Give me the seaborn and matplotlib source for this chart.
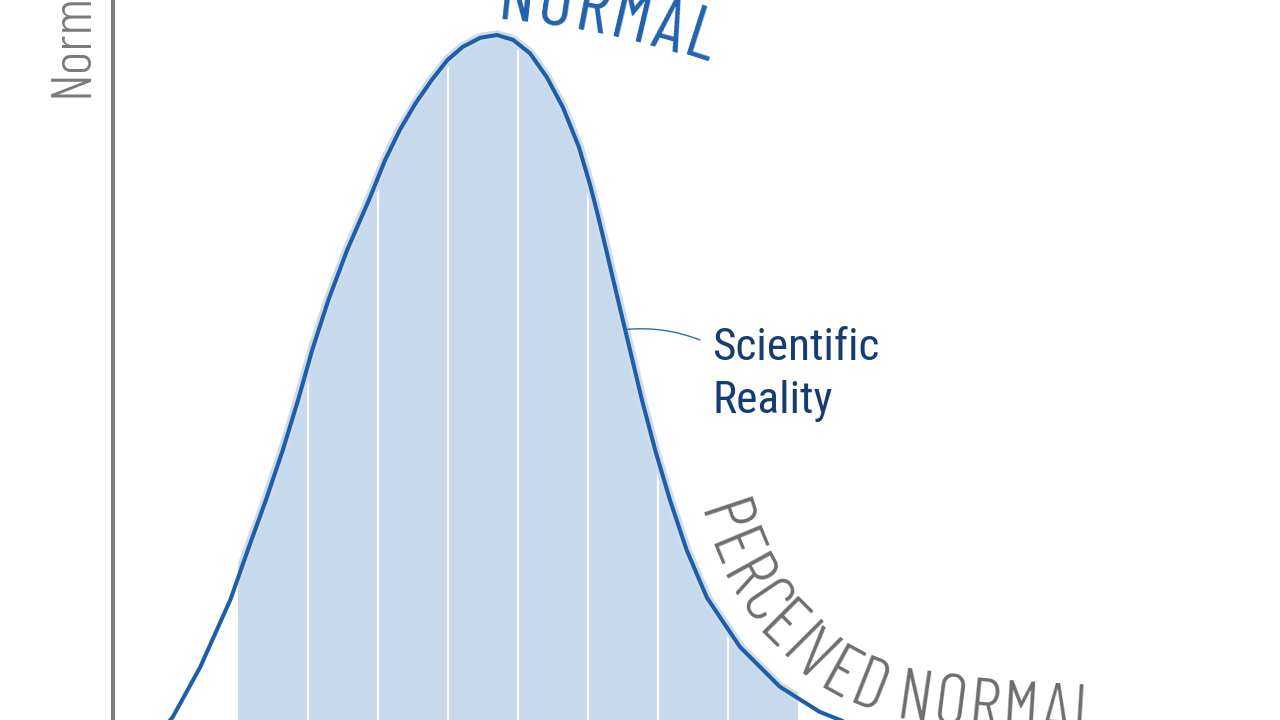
import os
import numpy as np
import matplotlib
matplotlib.use("Agg")
import matplotlib.pyplot as plt
import seaborn as sns
from matplotlib import font_manager as fm
from matplotlib.font_manager import FontProperties
from matplotlib.transforms import IdentityTransform
from matplotlib.patches import Rectangle

# ---------------- data ----------------
score = [-1.11, -0.93, -0.54, -0.11, 0.14, 0.40, 0.64, 0.86, 1.06, 1.29, 1.56, 1.87,
         2.10, 2.31, 2.54, 2.77, 2.99, 3.21, 3.46, 3.70, 3.93, 4.17, 4.41, 4.64,
         4.87, 5.03, 5.14, 5.26, 5.43, 5.60, 5.77, 5.96, 6.17, 6.41, 6.70, 7.17,
         7.74, 8.31, 8.89, 9.46]
density = [0.003, 0.026, 0.097, 0.193, 0.264, 0.336, 0.407, 0.479, 0.550, 0.621, 0.693, 0.764,
           0.821, 0.864, 0.903, 0.936, 0.964, 0.983, 0.996, 1.000, 0.993, 0.974, 0.940, 0.897,
           0.840, 0.786, 0.743, 0.693, 0.621, 0.550, 0.479, 0.407, 0.336, 0.264, 0.196, 0.126,
           0.069, 0.033, 0.010, -0.001]
bin_edges = [0, 1, 2, 3, 4, 5, 6, 7, 8]
axis_label = "Normal"
curve_label = ["Scientific", "Reality"]
top_label = "NORMAL"
tail_label = "PERCEIVED NORMAL"
leader_score = 5.53

# ---------------- style ----------------
LINE = "#1d5ea8"
FILL = "#c7d9ed"
HALO = "#cfdbe9"
NAVY = "#163d72"
GRAY_TEXT = "#6e6e6e"
AXIS = "#808080"
TOP_TEXT = "#2162ad"
LEADER = "#2d6db3"

W, H = 1280, 720

sns.set_theme(style="white")
fig = plt.figure(figsize=(12.8, 7.2), dpi=100)
ax = fig.add_axes([0, 0, 1, 1])
ax.set_xlim(-3.4, 14.886)
ax.set_ylim(0.0214, 1.05)

# fill of the bins region
clip_rect = Rectangle((bin_edges[0], -1), bin_edges[-1] - bin_edges[0], 3,
                      transform=ax.transData)
fill = ax.fill_between(score, density, -0.5, color=FILL, lw=0, zorder=1)
fill.set_clip_path(clip_rect)
sep = ax.vlines(bin_edges[1:-1], -0.5, 1.2, colors="white", lw=1.6, zorder=2)
sep.set_clip_path(fill.get_paths()[0], ax.transData)
halo, = ax.plot(score, density, color=HALO, lw=7.0, zorder=2.5,
                solid_capstyle="butt", solid_joinstyle="round")
halo.set_clip_path(clip_rect)

sns.lineplot(x=score, y=density, sort=False, estimator=None, color=LINE, lw=2.9,
             ax=ax, zorder=3, legend=False, solid_joinstyle="round")

ax.set_xticks([])
ax.set_yticks([])
ax.set_xlabel("")
ax.set_ylabel("")
for s in ["top", "right", "bottom"]:
    ax.spines[s].set_visible(False)
ax.spines["left"].set_position(("data", -1.786))
ax.spines["left"].set_color(AXIS)
ax.spines["left"].set_linewidth(2.9)

# ---------------- fonts ----------------
by_name = {}
for f in fm.fontManager.ttflist:
    by_name.setdefault(os.path.basename(f.fname).lower(), f.fname)


def pick(cands):
    for c in cands:
        if c.lower() in by_name:
            return FontProperties(fname=by_name[c.lower()])
    return FontProperties(family="DejaVu Sans")


fp_top = pick(["BarlowCondensed-Regular.ttf", "RobotoCondensed-Regular.ttf"])
fp_tail = pick(["BarlowCondensed-Light.ttf", "RobotoCondensed-Light.ttf"])
fp_norm = pick(["BarlowCondensed-Light.ttf", "RobotoCondensed-Light.ttf"])
fp_sci = pick(["RobotoCondensed-Regular.ttf", "Roboto-Regular.ttf"])

fig.canvas.draw()
renderer = fig.canvas.get_renderer()


def width(s, fp):
    w, h, d = renderer.get_text_width_height_descent(s, fp, ismath=False)
    return w


def cap_sized(fp, cap_px):
    p = fp.copy()
    p.set_size(100)
    w, h, d = renderer.get_text_width_height_descent("H", p, ismath=False)
    p.set_size(100 * cap_px / (h - d))
    return p


def width_sized(text, fp, target):
    p = fp.copy()
    p.set_size(100)
    p.set_size(100 * target / width(text, p))
    return p


def disp(x, y):
    return x, H - y


def text_on_path(text, pts_img, p, color, s_start, s_end, zorder=4):
    pts = np.array([disp(x, y) for x, y in pts_img], float)
    seg = np.diff(pts, axis=0)
    L = np.hypot(seg[:, 0], seg[:, 1])
    cum = np.r_[0, np.cumsum(L)]

    def at(s):
        i = int(np.clip(np.searchsorted(cum, s) - 1, 0, len(L) - 1))
        t = (s - cum[i]) / L[i]
        return pts[i] + t * seg[i]

    natural = width(text, p)
    w0 = width(text[0], p)
    wl = width(text[-1], p)
    k = (s_end - s_start - w0 / 2 - wl / 2) / (natural - w0 / 2 - wl / 2)
    for i, ch in enumerate(text):
        if ch == " ":
            continue
        wi = width(ch, p)
        c = width(text[: i + 1], p) - wi / 2
        s = s_start + w0 / 2 + (c - w0 / 2) * k
        pos = at(s)
        a = at(s - 10)
        b = at(s + 10)
        ang = np.degrees(np.arctan2(b[1] - a[1], b[0] - a[0]))
        ax.text(pos[0], pos[1], ch, transform=IdentityTransform(), fontproperties=p,
                color=color, rotation=ang, rotation_mode="anchor", ha="center",
                va="baseline", zorder=zorder)


def path_len_to_x(pts_img, xq):
    pts = np.array(pts_img, float)
    s = 0.0
    for k in range(len(pts) - 1):
        p0, p1 = pts[k], pts[k + 1]
        l = np.hypot(*(p1 - p0))
        if p0[0] <= xq <= p1[0]:
            return s + l * (xq - p0[0]) / (p1[0] - p0[0])
        s += l
    return s


# ---- "NORMAL" along an arc over the peak ----
arc_x = np.linspace(440, 800, 90)
arc_y = 916 - np.sqrt(900 ** 2 - (arc_x - 420) ** 2)
arc_pts = list(zip(arc_x, arc_y))
text_on_path(top_label, arc_pts, cap_sized(fp_top, 52), TOP_TEXT,
             path_len_to_x(arc_pts, 497), path_len_to_x(arc_pts, 708))

# ---- "PERCEIVED NORMAL" along the right tail ----
tail_pts = [(691, 493), (707, 541), (726, 587), (757, 633), (794, 670), (830, 694),
            (866, 710), (902, 719), (950, 726), (1000, 731), (1100, 737), (1200, 740)]
text_on_path(tail_label, tail_pts, cap_sized(fp_tail, 50), GRAY_TEXT,
             path_len_to_x(tail_pts, 697), path_len_to_x(tail_pts, 1098))

# ---- y axis label ----
p_norm = cap_sized(fp_norm, 40)
ax.text(*disp(88, 97), axis_label, transform=IdentityTransform(), fontproperties=p_norm,
        color="#7a7a7a", rotation=90, rotation_mode="anchor", ha="left", va="baseline")

# ---- Scientific Reality label ----
p_sci = width_sized(curve_label[0], fp_sci, 168)
ax.text(*disp(712, 360), curve_label[0], transform=IdentityTransform(),
        fontproperties=p_sci, color=NAVY, ha="left", va="baseline")
ax.text(*disp(713, 413), curve_label[1], transform=IdentityTransform(),
        fontproperties=p_sci, color=NAVY, ha="left", va="baseline")
ax.annotate("", xy=(leader_score, np.interp(leader_score, score, density)),
            xycoords="data", xytext=disp(700, 340), textcoords="figure pixels",
            arrowprops=dict(arrowstyle="-", color=LEADER, lw=1.0,
                            connectionstyle="arc3,rad=0.12", shrinkA=0, shrinkB=0),
            zorder=4)

fig.savefig("out.png", dpi=100)
